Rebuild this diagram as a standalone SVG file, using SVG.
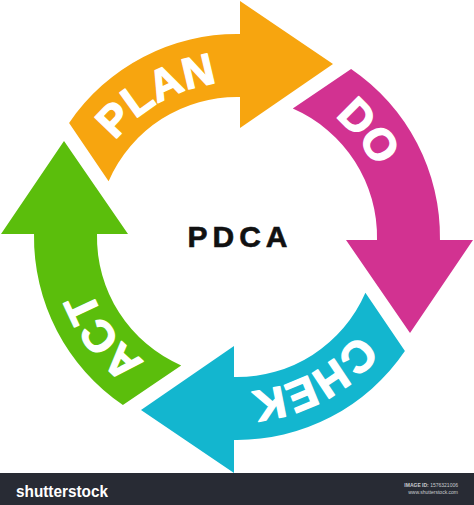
<svg xmlns="http://www.w3.org/2000/svg" width="474" height="505" viewBox="0 0 474 505">
  <style>
    .lbl { font-family: "Liberation Sans", Arial, sans-serif; font-weight: bold; font-size: 44px; fill: #ffffff; stroke: #ffffff; stroke-width: 1.4px; stroke-linejoin: round; }
    .center { font-family: "Liberation Sans", Arial, sans-serif; font-weight: bold; font-size: 30px; fill: #111111; stroke: #111111; stroke-width: 0.6px; letter-spacing: 5px; }
    .brand { font-family: "Liberation Sans", Arial, sans-serif; font-weight: bold; font-size: 17px; fill: #ffffff; }
    .meta { font-family: "Liberation Sans", Arial, sans-serif; font-size: 5px; fill: #c9cbd0; }
  </style>
  <defs>
    <path id="arrow" d="M -167.9 -114.1 A 203 203 0 0 1 3 -202.98 L 3 -236 L 96 -173 L 3 -109 L 3 -140 A 140 140 0 0 0 -128.4 -55.8 Z"/>
    <path id="tpPlan" d="M 84.1 262.6 A 155 155 0 0 1 337.7 119.1"/>
    <path id="tpDo" d="M 187.0 90.3 A 155 155 0 0 1 369.6 317.3"/>
    <path id="tpChek" d="M 390.4 214.6 A 155 155 0 0 1 133.9 352.7"/>
    <path id="tpAct" d="M 281.5 385.5 A 155 155 0 0 1 107.4 151.9"/>
  </defs>
  <rect x="0" y="0" width="474" height="505" fill="#ffffff"/>

  <g id="connectors"></g>

  <g id="plan">
    <use href="#arrow" transform="translate(237 237)" fill="#F7A50F"/>
    <text class="lbl"><textPath href="#tpPlan" startOffset="50%" text-anchor="middle">PLAN</textPath></text>
  </g>
  <g id="do">
    <use href="#arrow" transform="translate(237 237) rotate(90)" fill="#D23291"/>
    <text class="lbl"><textPath href="#tpDo" startOffset="50%" text-anchor="middle">DO</textPath></text>
  </g>
  <g id="chek">
    <use href="#arrow" transform="translate(237 237) rotate(180)" fill="#13B6CF"/>
    <text class="lbl"><textPath href="#tpChek" startOffset="50%" text-anchor="middle">CHEK</textPath></text>
  </g>
  <g id="act">
    <use href="#arrow" transform="translate(237 237) rotate(270)" fill="#5BBE0C"/>
    <text class="lbl"><textPath href="#tpAct" startOffset="50%" text-anchor="middle">ACT</textPath></text>
  </g>
  <g id="pdca">
    <text class="center" x="240" y="247" text-anchor="middle">PDCA</text>
  </g>

  <g id="footer">
    <rect x="0" y="473" width="474" height="32" fill="#282B34"/>
    <text class="brand" x="16" y="497" textLength="92" lengthAdjust="spacingAndGlyphs">shutterstock</text>
    <text class="meta" x="458" y="487" text-anchor="end"><tspan font-weight="bold">IMAGE ID:</tspan> 1576321006</text>
    <text class="meta" x="458" y="494" text-anchor="end">www.shutterstock.com</text>
  </g>
</svg>
